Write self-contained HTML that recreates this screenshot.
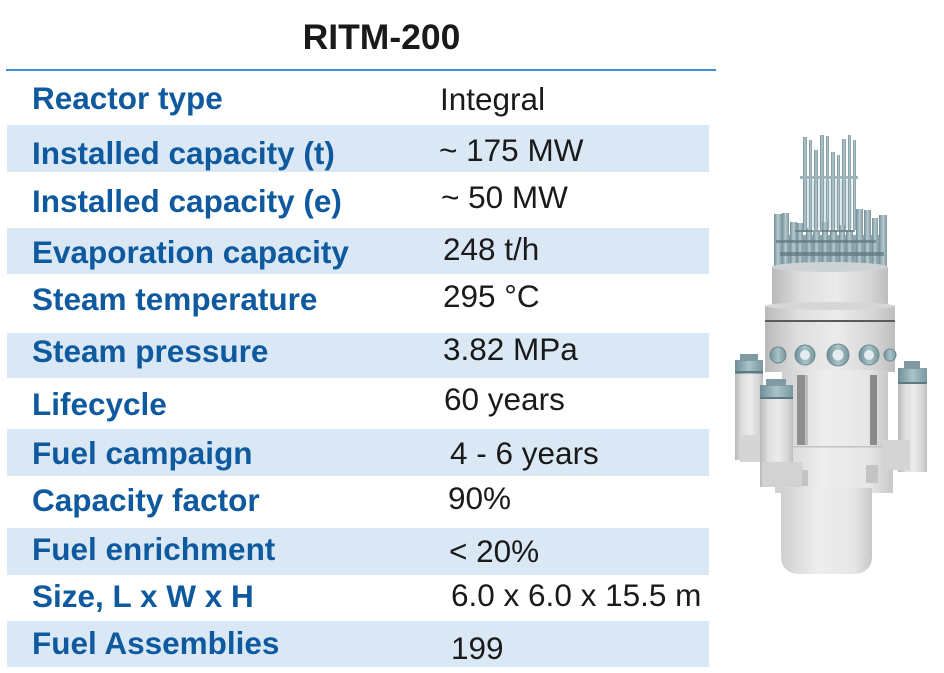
<!DOCTYPE html>
<html>
<head>
<meta charset="utf-8">
<style>
  html,body{margin:0;padding:0;background:#fff;}
  body{width:944px;height:673px;position:relative;overflow:hidden;font-family:"Liberation Sans",Arial,sans-serif;}
  .band{position:absolute;left:7px;width:702px;background:#dae8f5;}
  .t{position:absolute;white-space:nowrap;line-height:1;font-size:31.5px;}
  .l{left:32px;font-weight:bold;color:#0f5a9e;}
  .v{color:#1a1a1a;}
  .title{position:absolute;left:0;width:763px;text-align:center;top:20px;font-size:35.5px;font-weight:bold;line-height:1;color:#1a1a1a;}
  .rule{position:absolute;left:6px;width:710px;top:69px;height:2px;background:#3f8fd2;}
</style>
</head>
<body>
<div class="title">RITM-200</div>
<div class="rule"></div>

<div class="band" style="top:125px;height:47px"></div>
<div class="band" style="top:228px;height:46px"></div>
<div class="band" style="top:333px;height:45px"></div>
<div class="band" style="top:429px;height:47px"></div>
<div class="band" style="top:528px;height:47px"></div>
<div class="band" style="top:621px;height:46px"></div>

<div class="t l" style="top:83px">Reactor type</div>
<div class="t l" style="top:138px">Installed capacity (t)</div>
<div class="t l" style="top:186px">Installed capacity (e)</div>
<div class="t l" style="top:237px">Evaporation capacity</div>
<div class="t l" style="top:284px">Steam temperature</div>
<div class="t l" style="top:336px">Steam pressure</div>
<div class="t l" style="top:389px">Lifecycle</div>
<div class="t l" style="top:438px">Fuel campaign</div>
<div class="t l" style="top:485px">Capacity factor</div>
<div class="t l" style="top:534px">Fuel enrichment</div>
<div class="t l" style="top:581px">Size, L x W x H</div>
<div class="t l" style="top:628px">Fuel Assemblies</div>

<div class="t v" style="left:440px;top:84px">Integral</div>
<div class="t v" style="left:439px;top:135px">~ 175 MW</div>
<div class="t v" style="left:441px;top:182px">~ 50 MW</div>
<div class="t v" style="left:443px;top:234px">248 t/h</div>
<div class="t v" style="left:443px;top:281px">295 °C</div>
<div class="t v" style="left:443px;top:334px">3.82 MPa</div>
<div class="t v" style="left:444px;top:384px">60 years</div>
<div class="t v" style="left:450px;top:438px">4 - 6 years</div>
<div class="t v" style="left:448px;top:483px">90%</div>
<div class="t v" style="left:449px;top:536px">&lt; 20%</div>
<div class="t v" style="left:451px;top:580px">6.0 x 6.0 x 15.5 m</div>
<div class="t v" style="left:451px;top:633px">199</div>

<svg style="position:absolute;left:0;top:0" width="944" height="673" viewBox="0 0 944 673">
  <defs>
    <linearGradient id="cyl" x1="0" x2="1" y1="0" y2="0">
      <stop offset="0" stop-color="#b9b9b9"/>
      <stop offset="0.25" stop-color="#dedede"/>
      <stop offset="0.55" stop-color="#ebebeb"/>
      <stop offset="0.85" stop-color="#d4d4d4"/>
      <stop offset="1" stop-color="#bdbdbd"/>
    </linearGradient>
    <linearGradient id="cyl2" x1="0" x2="1" y1="0" y2="0">
      <stop offset="0" stop-color="#cfcfcf"/>
      <stop offset="0.4" stop-color="#eeeeee"/>
      <stop offset="0.8" stop-color="#e6e6e6"/>
      <stop offset="1" stop-color="#c8c8c8"/>
    </linearGradient>
    <linearGradient id="rod" x1="0" x2="1" y1="0" y2="0">
      <stop offset="0" stop-color="#6f8c95"/>
      <stop offset="0.5" stop-color="#b6cbd0"/>
      <stop offset="1" stop-color="#7d979f"/>
    </linearGradient>
    <linearGradient id="cap" x1="0" x2="1" y1="0" y2="0">
      <stop offset="0" stop-color="#6f8f98"/>
      <stop offset="0.5" stop-color="#a9c3c9"/>
      <stop offset="1" stop-color="#7a979f"/>
    </linearGradient>
  </defs>

  <!-- rods -->
  <rect x="806" y="180" width="46" height="48" fill="#c9d8dc" opacity="0.6"/>
  <g fill="url(#rod)">
    <rect x="803" y="137" width="4" height="95"/>
    <rect x="809" y="140" width="3" height="90"/>
    <rect x="814" y="150" width="4" height="80"/>
    <rect x="820" y="135" width="4" height="95"/>
    <rect x="826" y="136" width="3" height="95"/>
    <rect x="831" y="152" width="4" height="80"/>
    <rect x="837" y="155" width="3" height="75"/>
    <rect x="842" y="139" width="4" height="92"/>
    <rect x="848" y="135" width="3" height="95"/>
    <rect x="853" y="140" width="3" height="90"/>
  </g>
  <rect x="800" y="176" width="58" height="3" fill="#9fb4ba"/>

  <!-- drive mechanisms -->
  <rect x="776" y="235" width="110" height="33" fill="#8ea5ac"/>
  <g fill="url(#rod)">
    <rect x="774" y="214" width="8" height="55"/>
    <rect x="782" y="213" width="7" height="56"/>
    <rect x="790" y="222" width="7" height="47"/>
    <rect x="797" y="223" width="6" height="46"/>
    <rect x="806" y="228" width="6" height="41"/>
    <rect x="813" y="232" width="7" height="37"/>
    <rect x="822" y="222" width="6" height="47"/>
    <rect x="830" y="230" width="7" height="39"/>
    <rect x="839" y="225" width="6" height="44"/>
    <rect x="846" y="230" width="7" height="39"/>
    <rect x="856" y="209" width="7" height="60"/>
    <rect x="864" y="210" width="7" height="59"/>
    <rect x="872" y="218" width="6" height="51"/>
    <rect x="879" y="215" width="8" height="54"/>
  </g>
  <g fill="#5e7680" opacity="0.7">
    <rect x="776" y="240" width="100" height="3"/>
    <rect x="780" y="252" width="104" height="4"/>
    <rect x="795" y="230" width="60" height="2"/>
  </g>

  <!-- head cylinder -->
  <rect x="772" y="267" width="116" height="44" fill="url(#cyl)"/>
  <ellipse cx="830" cy="267" rx="58" ry="5" fill="#cdd3d4"/>

  <!-- flange -->
  <rect x="765" y="306" width="130" height="66" fill="url(#cyl)"/>
  <ellipse cx="830" cy="306" rx="65" ry="4" fill="#d6d6d6"/>
  <rect x="765" y="320" width="130" height="2" fill="#5a5a5a"/>
  <g fill="url(#cap)" stroke="#6b8790" stroke-width="1">
    <circle cx="778" cy="355" r="8"/>
    <circle cx="805" cy="355" r="10"/>
    <circle cx="838" cy="355" r="11"/>
    <circle cx="869" cy="355" r="10"/>
    <circle cx="890" cy="355" r="6"/>
  </g>
  <g fill="#e3ecee">
    <circle cx="805" cy="355" r="5"/>
    <circle cx="838" cy="355" r="5.5"/>
    <circle cx="869" cy="355" r="5"/>
  </g>

  <!-- main body -->
  <rect x="782" y="370" width="106" height="80" fill="url(#cyl2)"/>
  <rect x="797" y="375" width="8" height="70" fill="#8e8e8e"/>
  <rect x="870" y="375" width="7" height="70" fill="#8a8a8a"/>
  <rect x="805" y="375" width="3" height="70" fill="#bfbfbf"/>

  <!-- lower nozzle band -->
  <rect x="775" y="445" width="118" height="48" fill="url(#cyl2)"/>
  <rect x="775" y="446" width="118" height="1.5" fill="#c2c2c2"/>
  <rect x="796" y="470" width="12" height="16" fill="#c4c4c4"/>
  <rect x="866" y="465" width="12" height="18" fill="#c4c4c4"/>

  <!-- bottom vessel -->
  <path d="M781 488 L872 488 L872 556 Q872 574 852 574 L801 574 Q781 574 781 556 Z" fill="url(#cyl2)"/>

  <!-- left module 1 -->
  <rect x="735" y="372" width="28" height="88" fill="url(#cyl)"/>
  <rect x="735" y="360" width="28" height="14" fill="url(#cap)"/>
  <rect x="735" y="371" width="28" height="2" fill="#5d7a83"/>
  <rect x="740" y="354" width="18" height="7" fill="#7f9aa2"/>
  <rect x="740" y="435" width="42" height="27" fill="#d5d5d5"/>

  <!-- left module 2 -->
  <rect x="760" y="397" width="33" height="90" fill="url(#cyl)"/>
  <rect x="760" y="385" width="33" height="14" fill="url(#cap)"/>
  <rect x="760" y="397" width="33" height="2" fill="#5d7a83"/>
  <rect x="766" y="379" width="20" height="7" fill="#7f9aa2"/>
  <rect x="762" y="462" width="40" height="25" fill="#d2d2d2"/>

  <!-- right module -->
  <rect x="898" y="383" width="29" height="89" fill="url(#cyl)"/>
  <rect x="898" y="368" width="29" height="16" fill="url(#cap)"/>
  <rect x="898" y="382" width="29" height="2" fill="#5d7a83"/>
  <rect x="904" y="361" width="16" height="8" fill="#7f9aa2"/>
  <rect x="882" y="440" width="28" height="30" fill="#d4d4d4"/>
</svg>
</body>
</html>
